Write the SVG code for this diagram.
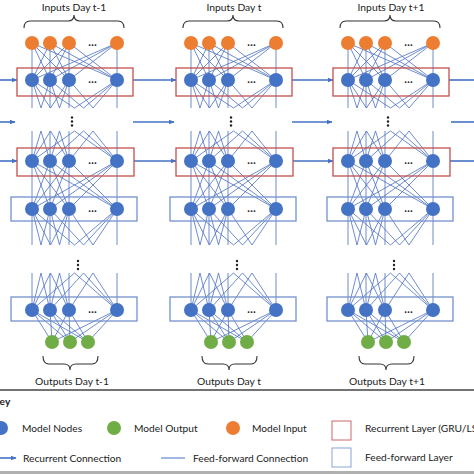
<svg xmlns="http://www.w3.org/2000/svg" xmlns:xlink="http://www.w3.org/1999/xlink" width="474" height="474" viewBox="0 0 474 474">
<style>
.n{fill:#4472C4}
.o{fill:#ED7D31}
.g{fill:#70AD47}
.rb{fill:none;stroke:#C0504D;stroke-width:1.3}
.fb{fill:none;stroke:#7391CC;stroke-width:1.3}
.ff{fill:none;stroke:#4A6FC2;stroke-width:0.8}
.rc{stroke:#4472C4;stroke-width:1.6;fill:none}
.br{fill:none;stroke:#333;stroke-width:1.1}
.t{font-family:Lato,"Liberation Sans",sans-serif;fill:#222}
.lab{font-size:10.3px;text-anchor:middle}
.leg{font-size:10.2px}
.el{font-family:Lato,"Liberation Sans",sans-serif;font-size:11px;font-weight:bold;text-anchor:middle;fill:#222}
.vd{fill:#222}
</style>
<defs>
<marker id="ah" viewBox="0 0 10 10" refX="9" refY="5" markerWidth="6" markerHeight="6" markerUnits="userSpaceOnUse" orient="auto"><path d="M0,1 L10,5 L0,9 z" fill="#4472C4"/></marker>
<path id="colconn" class="ff" d="M32 43L32 80M32 43L50 80M32 43L69 80M32 43L117 80M50 43L32 80M50 43L50 80M50 43L69 80M50 43L117 80M69 43L32 80M69 43L50 80M69 43L69 80M69 43L117 80M117 43L32 80M117 43L50 80M117 43L69 80M117 43L117 80
M32 80L32 108M32 80L41 108M32 80L50.5 108M32 80L74.5 108M50 80L41 108M50 80L50 108M50 80L59.5 108M50 80L83.5 108M69 80L50.5 108M69 80L59.5 108M69 80L69 108M69 80L93 108M117 80L74.5 108M117 80L83.5 108M117 80L93 108M117 80L117 108
M32 131L32 161M41 131L32 161M50.5 131L32 161M74.5 131L32 161M41 131L50 161M50 131L50 161M59.5 131L50 161M83.5 131L50 161M50.5 131L69 161M59.5 131L69 161M69 131L69 161M93 131L69 161M74.5 131L117 161M83.5 131L117 161M93 131L117 161M117 131L117 161
M32 161L32 209M32 161L50 209M32 161L69 209M32 161L117 209M50 161L32 209M50 161L50 209M50 161L69 209M50 161L117 209M69 161L32 209M69 161L50 209M69 161L69 209M69 161L117 209M117 161L32 209M117 161L50 209M117 161L69 209M117 161L117 209
M32 209L32 245M32 209L41 245M32 209L50.5 245M32 209L74.5 245M50 209L41 245M50 209L50 245M50 209L59.5 245M50 209L83.5 245M69 209L50.5 245M69 209L59.5 245M69 209L69 245M69 209L93 245M117 209L74.5 245M117 209L83.5 245M117 209L93 245M117 209L117 245
M32 273L32 310M41 273L32 310M50.5 273L32 310M74.5 273L32 310M41 273L50 310M50 273L50 310M59.5 273L50 310M83.5 273L50 310M50.5 273L69 310M59.5 273L69 310M69 273L69 310M93 273L69 310M74.5 273L117 310M83.5 273L117 310M93 273L117 310M117 273L117 310
M32 310L52 342M32 310L70 342M32 310L88 342M50 310L52 342M50 310L70 342M50 310L88 342M69 310L52 342M69 310L70 342M69 310L88 342M117 310L52 342M117 310L70 342M117 310L88 342"/>
</defs>
<rect width="474" height="474" fill="#fff"/>

<g id="connectors">
<use xlink:href="#colconn" href="#colconn" x="0"/>
<use xlink:href="#colconn" href="#colconn" x="159"/>
<use xlink:href="#colconn" href="#colconn" x="316"/>
<path class="rc" d="M0 80H17" marker-end="url(#ah)"/>
<path class="rc" d="M133 80H176" marker-end="url(#ah)"/>
<path class="rc" d="M292 80H333" marker-end="url(#ah)"/>
<path class="rc" d="M449 80H474"/>
<path class="rc" d="M0 122H15" marker-end="url(#ah)"/>
<path class="rc" d="M133 122H174" marker-end="url(#ah)"/>
<path class="rc" d="M292 122H332" marker-end="url(#ah)"/>
<path class="rc" d="M451 122H474"/>
<path class="rc" d="M0 161H17" marker-end="url(#ah)"/>
<path class="rc" d="M134 161H176" marker-end="url(#ah)"/>
<path class="rc" d="M293 161H333" marker-end="url(#ah)"/>
<path class="rc" d="M450 161H474"/>
</g>

<g id="layer-boxes">
<rect class="rb" x="17" y="68" width="116" height="28"/>
<rect class="rb" x="176" y="68" width="116" height="28"/>
<rect class="rb" x="333" y="68" width="116" height="28"/>
<rect class="rb" x="17" y="148" width="117" height="28"/>
<rect class="rb" x="176" y="148" width="117" height="28"/>
<rect class="rb" x="333" y="148" width="117" height="28"/>
<rect class="fb" x="11" y="197" width="126" height="24"/>
<rect class="fb" x="170" y="197" width="126" height="24"/>
<rect class="fb" x="327" y="197" width="126" height="24"/>
<rect class="fb" x="11" y="297" width="126" height="24"/>
<rect class="fb" x="170" y="297" width="126" height="24"/>
<rect class="fb" x="327" y="297" width="126" height="24"/>
</g>

<!-- column 1 -->
<g id="c1-in-1"><circle class="o" cx="32" cy="43" r="7"/></g>
<g id="c1-in-2"><circle class="o" cx="50" cy="43" r="7"/></g>
<g id="c1-in-3"><circle class="o" cx="69" cy="43" r="7"/></g>
<g id="c1-in-n"><circle class="o" cx="117" cy="43" r="7"/></g>
<g id="c1-r1-1"><circle class="n" cx="32" cy="80" r="7"/></g>
<g id="c1-r1-2"><circle class="n" cx="50" cy="80" r="7"/></g>
<g id="c1-r1-3"><circle class="n" cx="69" cy="80" r="7"/></g>
<g id="c1-r1-n"><circle class="n" cx="117" cy="80" r="7"/></g>
<g id="c1-r2-1"><circle class="n" cx="32" cy="161" r="7"/></g>
<g id="c1-r2-2"><circle class="n" cx="50" cy="161" r="7"/></g>
<g id="c1-r2-3"><circle class="n" cx="69" cy="161" r="7"/></g>
<g id="c1-r2-n"><circle class="n" cx="117" cy="161" r="7"/></g>
<g id="c1-f1-1"><circle class="n" cx="32" cy="209" r="7"/></g>
<g id="c1-f1-2"><circle class="n" cx="50" cy="209" r="7"/></g>
<g id="c1-f1-3"><circle class="n" cx="69" cy="209" r="7"/></g>
<g id="c1-f1-n"><circle class="n" cx="117" cy="209" r="7"/></g>
<g id="c1-f2-1"><circle class="n" cx="32" cy="310" r="7"/></g>
<g id="c1-f2-2"><circle class="n" cx="50" cy="310" r="7"/></g>
<g id="c1-f2-3"><circle class="n" cx="69" cy="310" r="7"/></g>
<g id="c1-f2-n"><circle class="n" cx="117" cy="310" r="7"/></g>
<g id="c1-out-1"><circle class="g" cx="52" cy="342" r="7"/></g>
<g id="c1-out-2"><circle class="g" cx="70" cy="342" r="7"/></g>
<g id="c1-out-3"><circle class="g" cx="88" cy="342" r="7"/></g>

<!-- column 2 -->
<g id="c2-in-1"><circle class="o" cx="191" cy="43" r="7"/></g>
<g id="c2-in-2"><circle class="o" cx="209" cy="43" r="7"/></g>
<g id="c2-in-3"><circle class="o" cx="228" cy="43" r="7"/></g>
<g id="c2-in-n"><circle class="o" cx="276" cy="43" r="7"/></g>
<g id="c2-r1-1"><circle class="n" cx="191" cy="80" r="7"/></g>
<g id="c2-r1-2"><circle class="n" cx="209" cy="80" r="7"/></g>
<g id="c2-r1-3"><circle class="n" cx="228" cy="80" r="7"/></g>
<g id="c2-r1-n"><circle class="n" cx="276" cy="80" r="7"/></g>
<g id="c2-r2-1"><circle class="n" cx="191" cy="161" r="7"/></g>
<g id="c2-r2-2"><circle class="n" cx="209" cy="161" r="7"/></g>
<g id="c2-r2-3"><circle class="n" cx="228" cy="161" r="7"/></g>
<g id="c2-r2-n"><circle class="n" cx="276" cy="161" r="7"/></g>
<g id="c2-f1-1"><circle class="n" cx="191" cy="209" r="7"/></g>
<g id="c2-f1-2"><circle class="n" cx="209" cy="209" r="7"/></g>
<g id="c2-f1-3"><circle class="n" cx="228" cy="209" r="7"/></g>
<g id="c2-f1-n"><circle class="n" cx="276" cy="209" r="7"/></g>
<g id="c2-f2-1"><circle class="n" cx="191" cy="310" r="7"/></g>
<g id="c2-f2-2"><circle class="n" cx="209" cy="310" r="7"/></g>
<g id="c2-f2-3"><circle class="n" cx="228" cy="310" r="7"/></g>
<g id="c2-f2-n"><circle class="n" cx="276" cy="310" r="7"/></g>
<g id="c2-out-1"><circle class="g" cx="211" cy="342" r="7"/></g>
<g id="c2-out-2"><circle class="g" cx="229" cy="342" r="7"/></g>
<g id="c2-out-3"><circle class="g" cx="247" cy="342" r="7"/></g>

<!-- column 3 -->
<g id="c3-in-1"><circle class="o" cx="348" cy="43" r="7"/></g>
<g id="c3-in-2"><circle class="o" cx="366" cy="43" r="7"/></g>
<g id="c3-in-3"><circle class="o" cx="385" cy="43" r="7"/></g>
<g id="c3-in-n"><circle class="o" cx="433" cy="43" r="7"/></g>
<g id="c3-r1-1"><circle class="n" cx="348" cy="80" r="7"/></g>
<g id="c3-r1-2"><circle class="n" cx="366" cy="80" r="7"/></g>
<g id="c3-r1-3"><circle class="n" cx="385" cy="80" r="7"/></g>
<g id="c3-r1-n"><circle class="n" cx="433" cy="80" r="7"/></g>
<g id="c3-r2-1"><circle class="n" cx="348" cy="161" r="7"/></g>
<g id="c3-r2-2"><circle class="n" cx="366" cy="161" r="7"/></g>
<g id="c3-r2-3"><circle class="n" cx="385" cy="161" r="7"/></g>
<g id="c3-r2-n"><circle class="n" cx="433" cy="161" r="7"/></g>
<g id="c3-f1-1"><circle class="n" cx="348" cy="209" r="7"/></g>
<g id="c3-f1-2"><circle class="n" cx="366" cy="209" r="7"/></g>
<g id="c3-f1-3"><circle class="n" cx="385" cy="209" r="7"/></g>
<g id="c3-f1-n"><circle class="n" cx="433" cy="209" r="7"/></g>
<g id="c3-f2-1"><circle class="n" cx="348" cy="310" r="7"/></g>
<g id="c3-f2-2"><circle class="n" cx="366" cy="310" r="7"/></g>
<g id="c3-f2-3"><circle class="n" cx="385" cy="310" r="7"/></g>
<g id="c3-f2-n"><circle class="n" cx="433" cy="310" r="7"/></g>
<g id="c3-out-1"><circle class="g" cx="368" cy="342" r="7"/></g>
<g id="c3-out-2"><circle class="g" cx="386" cy="342" r="7"/></g>
<g id="c3-out-3"><circle class="g" cx="404" cy="342" r="7"/></g>

<g id="ellipses">
<text class="el" x="92.5" y="46">…</text>
<text class="el" x="92.5" y="83">…</text>
<text class="el" x="92.5" y="164">…</text>
<text class="el" x="92.5" y="212">…</text>
<text class="el" x="92.5" y="313">…</text>
<text class="el" x="251.5" y="46">…</text>
<text class="el" x="251.5" y="83">…</text>
<text class="el" x="251.5" y="164">…</text>
<text class="el" x="251.5" y="212">…</text>
<text class="el" x="251.5" y="313">…</text>
<text class="el" x="408.5" y="46">…</text>
<text class="el" x="408.5" y="83">…</text>
<text class="el" x="408.5" y="164">…</text>
<text class="el" x="408.5" y="212">…</text>
<text class="el" x="408.5" y="313">…</text>
</g>

<g id="vertical-dots">
<circle class="vd" cx="72" cy="117.5" r="1.2"/><circle class="vd" cx="72" cy="121.5" r="1.2"/><circle class="vd" cx="72" cy="125.5" r="1.2"/>
<circle class="vd" cx="231" cy="117.5" r="1.2"/><circle class="vd" cx="231" cy="121.5" r="1.2"/><circle class="vd" cx="231" cy="125.5" r="1.2"/>
<circle class="vd" cx="388" cy="117.5" r="1.2"/><circle class="vd" cx="388" cy="121.5" r="1.2"/><circle class="vd" cx="388" cy="125.5" r="1.2"/>
<circle class="vd" cx="78" cy="261" r="1.2"/><circle class="vd" cx="78" cy="265" r="1.2"/><circle class="vd" cx="78" cy="269" r="1.2"/>
<circle class="vd" cx="237" cy="261" r="1.2"/><circle class="vd" cx="237" cy="265" r="1.2"/><circle class="vd" cx="237" cy="269" r="1.2"/>
<circle class="vd" cx="394" cy="261" r="1.2"/><circle class="vd" cx="394" cy="265" r="1.2"/><circle class="vd" cx="394" cy="269" r="1.2"/>
</g>

<g id="braces">
<path class="br" d="M24 28Q24 21 30 21L68 21Q74 21 74 15Q74 21 80 21L118 21Q124 21 124 28"/>
<path class="br" d="M183 28Q183 21 189 21L227 21Q233 21 233 15Q233 21 239 21L277 21Q283 21 283 28"/>
<path class="br" d="M340 28Q340 21 346 21L384 21Q390 21 390 15Q390 21 396 21L434 21Q440 21 440 28"/>
<path class="br" d="M43 356Q43 364 49 364L64 364Q70 364 70 370Q70 364 76 364L92 364Q98 364 98 356"/>
<path class="br" d="M202 356Q202 364 208 364L223 364Q229 364 229 370Q229 364 235 364L251 364Q257 364 257 356"/>
<path class="br" d="M359 356Q359 364 365 364L380 364Q386 364 386 370Q386 364 392 364L408 364Q414 364 414 356"/>
</g>

<g id="labels">
<text class="t lab" x="74" y="10.5">Inputs Day t-1</text>
<text class="t lab" x="234" y="10.5">Inputs Day t</text>
<text class="t lab" x="391" y="10.5">Inputs Day t+1</text>
<text class="t lab" x="72" y="385">Outputs Day t-1</text>
<text class="t lab" x="229" y="385">Outputs Day t</text>
<text class="t lab" x="387" y="385">Outputs Day t+1</text>
</g>

<g id="legend">
<line x1="0" y1="390" x2="474" y2="390" stroke="#444" stroke-width="1.5"/>
<rect x="0" y="471" width="474" height="3" fill="#b0b0b0"/>
<text class="t leg" x="-7" y="405" font-weight="bold">Key</text>
<circle class="n" cx="1" cy="428" r="7"/>
<text class="t leg" x="22" y="432">Model Nodes</text>
<circle class="g" cx="114" cy="428" r="7"/>
<text class="t leg" x="134" y="432">Model Output</text>
<circle class="o" cx="233" cy="428" r="7"/>
<text class="t leg" x="252" y="432">Model Input</text>
<rect x="332" y="421" width="19" height="19" fill="none" stroke="#C96A6A" stroke-width="1"/>
<text class="t leg" x="365" y="432">Recurrent Layer (GRU/LSTM)</text>
<path class="rc" d="M0 458H16" marker-end="url(#ah)"/>
<text class="t leg" x="23" y="462">Recurrent Connection</text>
<line x1="161" y1="458" x2="185" y2="458" stroke="#4472C4" stroke-width="1"/>
<text class="t leg" x="193" y="462">Feed-forward Connection</text>
<rect x="332" y="448" width="19" height="19" fill="none" stroke="#8AA4D6" stroke-width="1"/>
<text class="t leg" x="365" y="461">Feed-forward Layer</text>
</g>
</svg>
